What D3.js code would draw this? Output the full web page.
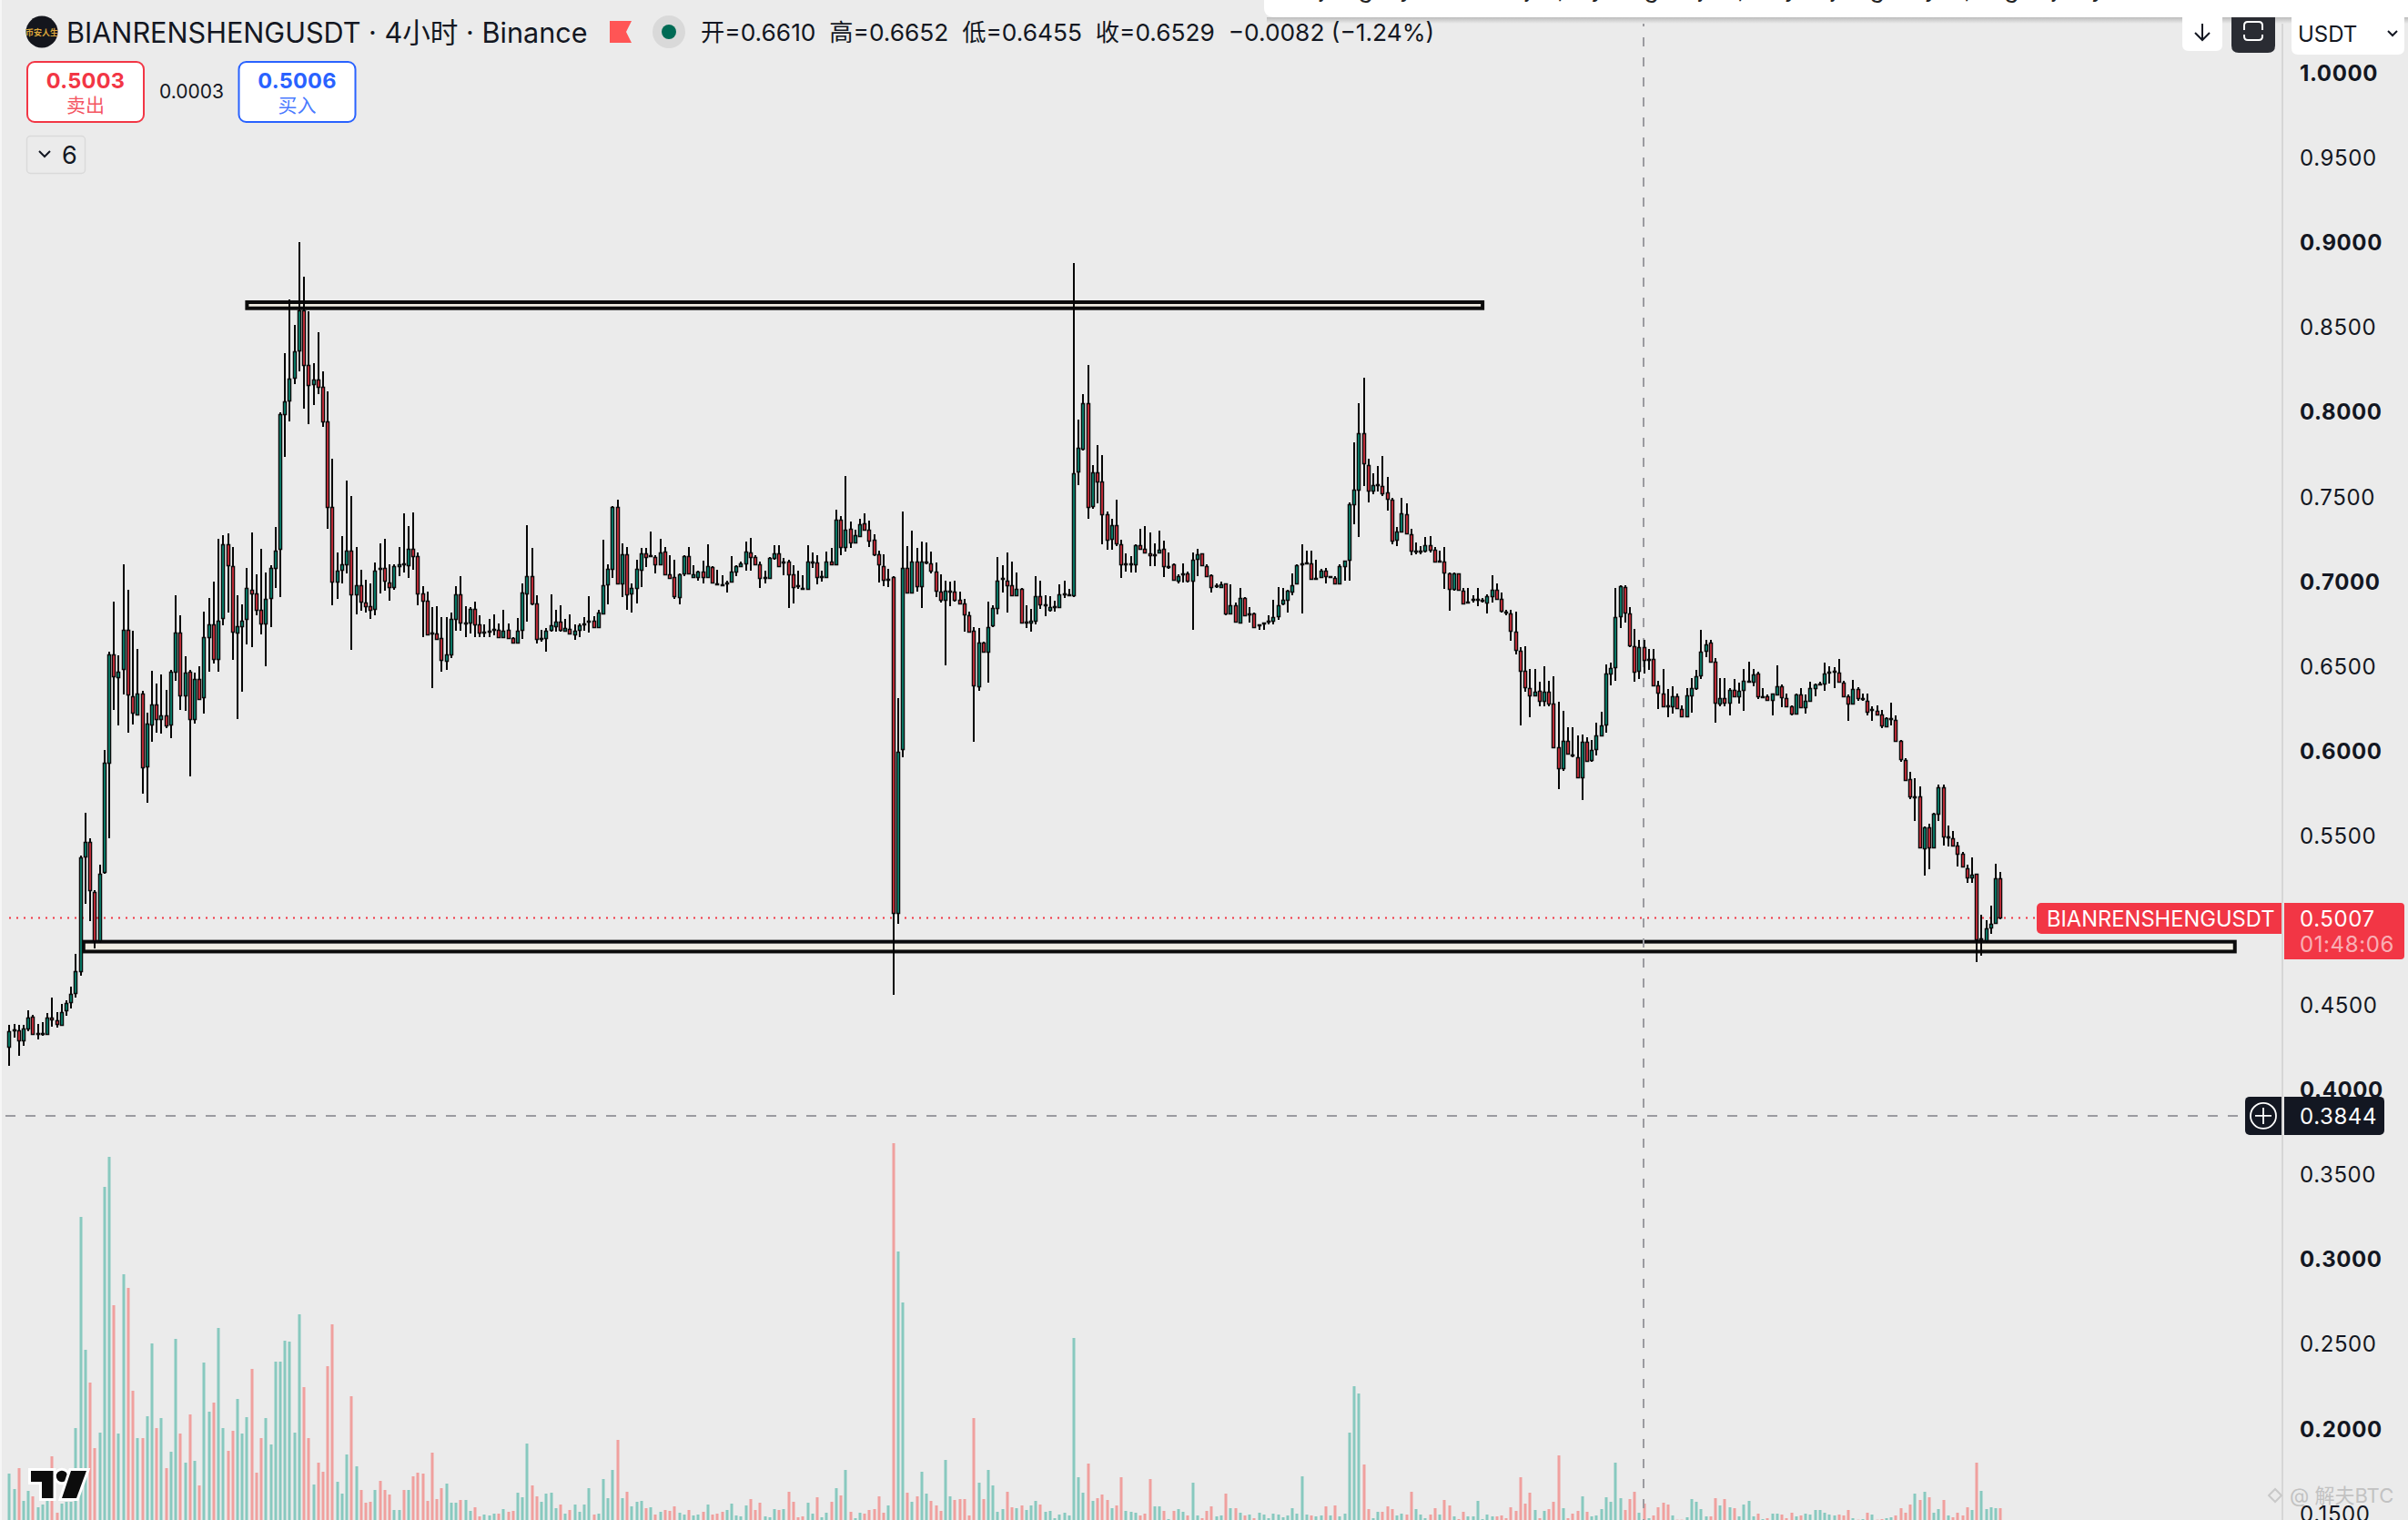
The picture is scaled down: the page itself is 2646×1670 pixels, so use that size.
<!DOCTYPE html>
<html><head><meta charset="utf-8">
<script src="https://cdn.jsdelivr.net/npm/d3@7"></script>
<style>
html,body{margin:0;padding:0;background:#ebebeb;overflow:hidden}
svg{display:block}
text{font-family:Inter,"Noto Sans CJK SC",sans-serif}
</style></head><body>
<svg id="c" width="2646" height="1670"></svg>
<script>
const opens=[
.4249,.4344,.4344,.4285,.4356,.4424,.4326,.4324,.4324,.4421,
.4401,.4378,.4460,.4507,.4560,.4688,.5366,.5454,.5162,.4875,
.5278,.5921,.6561,.6429,.6472,.6705,.6316,.6213,.6334,.5901,
.6152,.6268,.6182,.6204,.6146,.6460,.6689,.6322,.6460,.6182,
.6420,.6307,.6666,.6740,.6537,.6773,.7211,.7081,.6692,.6730,
.6767,.6946,.6920,.6823,.6746,.6894,.7074,.7185,.7981,.8062,
.8196,.8357,.8593,.8271,.8155,.8182,.8139,.7936,.7430,.6991,
.7059,.7095,.7177,.6920,.6973,.6871,.6848,.6832,.7074,.7074,
.6988,.6955,.7086,.7100,.7092,.7188,.7140,.6921,.6880,.6692,
.6687,.6657,.6526,.6562,.6772,.6916,.6749,.6749,.6830,.6737,
.6694,.6699,.6710,.6710,.6665,.6710,.6661,.6633,.6704,.6925,
.7027,.6865,.6658,.6660,.6704,.6733,.6755,.6704,.6715,.6683,
.6704,.6737,.6760,.6762,.6724,.6808,.6973,.7066,.7431,.6982,
.7155,.6921,.6955,.7066,.7161,.7143,.7139,.7095,.7172,.7037,
.7018,.6905,.7041,.7145,.7023,.7019,.7052,.7019,.7080,.6982,
.6978,.6978,.6991,.7055,.7086,.7098,.7166,.7139,.7095,.7014,
.7014,.7134,.7161,.7109,.7112,.7037,.6968,.6955,.6951,.7109,
.7104,.7021,.7019,.7112,.7095,.7360,.7198,.7304,.7224,.7265,
.7336,.7300,.7238,.7152,.7086,.7005,.7019,.5035,.6003,.7073,
.6928,.7112,.6969,.7109,.7098,.7053,.6935,.6885,.6937,.6934,
.6883,.6865,.6796,.6701,.6375,.6633,.6579,.6733,.6840,.7009,
.7000,.6973,.6912,.6948,.6753,.6751,.6762,.6905,.6853,.6830,
.6842,.6844,.6917,.6914,.6912,.7641,.7779,.8044,.7435,.7639,
.7582,.7391,.7242,.7324,.7215,.7095,.7097,.7095,.7206,.7185,
.7158,.7147,.7163,.7185,.7079,.7095,.7002,.7040,.7041,.6997,
.7126,.7156,.7086,.7029,.6968,.6961,.6979,.6803,.6850,.6752,
.6898,.6800,.6805,.6734,.6744,.6757,.6759,.6787,.6863,.6884,
.6938,.6979,.7095,.7101,.7102,.7013,.7020,.7056,.7018,.7016,
.6984,.7086,.7120,.7450,.7532,.7865,.7682,.7530,.7562,.7555,
.7516,.7478,.7238,.7289,.7389,.7271,.7174,.7174,.7176,.7208,
.7181,.7111,.7110,.7041,.6947,.7038,.6941,.6870,.6886,.6886,
.6882,.6870,.6905,.6943,.6888,.6816,.6802,.6696,.6585,.6465,
.6366,.6322,.6347,.6290,.6343,.6272,.6012,.5892,.6053,.5969,
.5958,.5838,.6048,.5941,.6003,.6084,.6146,.6451,.6483,.6787,
.6959,.6803,.6612,.6465,.6603,.6529,.6537,.6379,.6334,.6259,
.6254,.6313,.6241,.6200,.6322,.6365,.6440,.6585,.6630,.6519,
.6277,.6304,.6275,.6352,.6316,.6352,.6402,.6400,.6447,.6315,
.6315,.6290,.6329,.6375,.6304,.6254,.6214,.6325,.6250,.6290,
.6365,.6386,.6393,.6458,.6463,.6454,.6397,.6313,.6272,.6356,
.6300,.6290,.6234,.6230,.6209,.6137,.6186,.6173,.6051,.5940,
.5824,.5720,.5722,.5421,.5543,.5421,.5622,.5776,.5482,.5479,
.5434,.5386,.5301,.5248,.5266,.4881,.4879,.4947,.4974,.5239];
const highs=[
.4374,.4383,.4378,.4378,.4464,.4437,.4383,.4392,.4446,.4539,
.4449,.4500,.4521,.4602,.4795,.5377,.5627,.5477,.5171,.5323,
.5999,.6576,.6875,.6558,.7095,.6943,.6701,.6594,.6347,.6218,
.6465,.6392,.6444,.6352,.6470,.6911,.6794,.6553,.6469,.6456,
.6495,.6814,.6895,.6991,.7244,.7265,.7279,.7197,.6911,.6857,
.7074,.7283,.7036,.7185,.7047,.7090,.7315,.7990,.8339,.8656,
.8506,.8996,.8792,.8586,.8280,.8463,.8232,.8115,.7716,.7163,
.7260,.7587,.7498,.7197,.7063,.7002,.6979,.7104,.7217,.7244,
.7095,.7095,.7197,.7396,.7319,.7399,.7163,.6964,.6934,.6841,
.6845,.6785,.6785,.6809,.6966,.7023,.6848,.6840,.6874,.6794,
.6737,.6772,.6799,.6746,.6826,.6746,.6665,.6778,.6982,.7324,
.7191,.6912,.6710,.6719,.6916,.6826,.6853,.6772,.6799,.6740,
.6746,.6785,.6907,.6790,.6826,.7238,.7095,.7438,.7474,.7216,
.7198,.6982,.7121,.7193,.7193,.7288,.7148,.7243,.7195,.7148,
.7120,.7041,.7148,.7195,.7091,.7059,.7116,.7211,.7086,.7062,
.7030,.6996,.7143,.7091,.7112,.7229,.7250,.7148,.7112,.7059,
.7139,.7209,.7209,.7130,.7121,.7091,.7055,.7028,.7207,.7163,
.7148,.7059,.7172,.7193,.7417,.7377,.7614,.7345,.7300,.7363,
.7394,.7354,.7270,.7175,.7152,.7068,.7023,.6307,.7406,.7202,
.7292,.7193,.7229,.7223,.7170,.7104,.7036,.6996,.6991,.6996,
.6934,.6889,.6817,.6722,.6719,.6636,.6874,.6853,.7138,.7091,
.7163,.7112,.7044,.6955,.6853,.6830,.7023,.6996,.6912,.6907,
.6880,.6975,.6996,.6951,.8874,.7949,.8098,.8271,.7681,.7799,
.7740,.7408,.7364,.7476,.7238,.7158,.7140,.7212,.7305,.7319,
.7283,.7220,.7292,.7233,.7163,.7101,.7033,.7099,.7050,.7163,
.7185,.7161,.7092,.7033,.6979,.6991,.6982,.6975,.6871,.6956,
.6902,.6841,.6809,.6741,.6752,.6791,.6884,.6959,.6956,.6943,
.7042,.7095,.7212,.7176,.7176,.7122,.7068,.7074,.7027,.7027,
.7092,.7117,.7460,.7815,.8044,.8196,.7718,.7632,.7673,.7734,
.7611,.7485,.7314,.7485,.7453,.7305,.7224,.7203,.7253,.7262,
.7197,.7176,.7197,.7045,.7045,.7041,.6956,.6956,.6911,.6956,
.6898,.6916,.7029,.6982,.6925,.6827,.6827,.6814,.6608,.6612,
.6477,.6477,.6400,.6492,.6406,.6433,.6284,.6230,.6134,.6134,
.6084,.6089,.6071,.6057,.6161,.6223,.6504,.6513,.6955,.6970,
.6970,.6844,.6714,.6648,.6648,.6594,.6594,.6406,.6477,.6358,
.6374,.6331,.6263,.6365,.6424,.6472,.6708,.6648,.6648,.6540,
.6424,.6424,.6365,.6418,.6397,.6477,.6519,.6477,.6460,.6365,
.6325,.6334,.6499,.6383,.6329,.6263,.6334,.6365,.6325,.6400,
.6393,.6400,.6513,.6495,.6486,.6535,.6406,.6325,.6411,.6370,
.6329,.6331,.6254,.6263,.6236,.6191,.6277,.6200,.6057,.5949,
.5869,.5833,.5783,.5547,.5565,.5627,.5792,.5794,.5552,.5520,
.5457,.5395,.5323,.5362,.5269,.5028,.4995,.5081,.5327,.5280];
const lows=[
.4133,.4303,.4192,.4254,.4338,.4317,.4288,.4310,.4321,.4365,
.4360,.4371,.4428,.4471,.4535,.4664,.5090,.4986,.4825,.4861,
.5266,.5480,.6236,.6141,.6325,.6102,.6150,.6200,.5738,.5685,
.6048,.6098,.6093,.6125,.6066,.6406,.6236,.6232,.5842,.6152,
.6299,.6211,.6460,.6508,.6463,.6733,.6812,.6531,.6179,.6340,
.6624,.6606,.6794,.6678,.6495,.6726,.6952,.6902,.7730,.7940,
.8155,.8235,.8012,.7924,.8035,.8101,.7904,.7301,.6853,.6888,
.6979,.7038,.6588,.6800,.6818,.6809,.6773,.6796,.6920,.6939,
.6877,.6946,.7027,.7047,.7015,.7063,.6853,.6662,.6674,.6365,
.6651,.6463,.6472,.6540,.6701,.6701,.6665,.6686,.6665,.6665,
.6665,.6665,.6674,.6661,.6661,.6656,.6629,.6626,.6654,.6758,
.6853,.6629,.6635,.6579,.6697,.6697,.6697,.6697,.6683,.6651,
.6665,.6704,.6690,.6719,.6719,.6808,.6858,.7014,.6978,.6903,
.6826,.6812,.6862,.6960,.7080,.7138,.7041,.7091,.7030,.7014,
.6892,.6860,.7027,.7037,.7014,.6996,.6982,.7014,.6984,.6973,
.6973,.6930,.6987,.7027,.7080,.7055,.7059,.7091,.6957,.6984,
.7014,.7121,.7080,.7032,.6839,.6865,.6948,.6948,.6948,.7075,
.6978,.6994,.7019,.7095,.7093,.7148,.7170,.7193,.7220,.7265,
.7297,.7197,.7145,.6987,.6966,.6960,.4552,.4975,.5958,.6925,
.6925,.6933,.6839,.7095,.7041,.6901,.6871,.6500,.6849,.6876,
.6858,.6697,.6697,.6049,.6350,.6575,.6397,.6722,.6799,.6925,
.6812,.6907,.6907,.6746,.6719,.6697,.6737,.6833,.6790,.6817,
.6817,.6839,.6894,.6907,.6901,.7564,.7766,.7364,.7421,.7453,
.7215,.7178,.7178,.7199,.7015,.7050,.7047,.7047,.7181,.7158,
.7086,.7086,.7158,.7020,.7068,.7000,.6979,.6988,.6988,.6705,
.7027,.7083,.7027,.6925,.6956,.6956,.6796,.6800,.6748,.6748,
.6787,.6748,.6719,.6710,.6710,.6737,.6741,.6768,.6854,.6812,
.6911,.6979,.6805,.7095,.7006,.7009,.7015,.6979,.7015,.6979,
.6979,.6997,.7000,.7328,.7253,.7557,.7462,.7507,.7525,.7498,
.7412,.7215,.7203,.7283,.7271,.7149,.7152,.7152,.7163,.7163,
.7110,.7110,.6948,.6821,.6938,.6938,.6863,.6863,.6866,.6848,
.6866,.6805,.6866,.6884,.6812,.6794,.6644,.6564,.6143,.6343,
.6191,.6315,.6254,.6254,.6254,.6012,.5770,.5874,.5976,.5955,
.5833,.5702,.5928,.5928,.5964,.6078,.6102,.6379,.6406,.6716,
.6751,.6603,.6400,.6415,.6451,.6469,.6375,.6239,.6254,.6191,
.6211,.6239,.6196,.6196,.6221,.6352,.6415,.6544,.6513,.6159,
.6254,.6254,.6200,.6313,.6275,.6232,.6400,.6375,.6298,.6307,
.6290,.6205,.6322,.6250,.6250,.6205,.6212,.6245,.6211,.6286,
.6316,.6383,.6350,.6388,.6361,.6397,.6311,.6168,.6268,.6286,
.6290,.6205,.6168,.6205,.6125,.6137,.6141,.6050,.5926,.5820,
.5708,.5577,.5416,.5255,.5294,.5416,.5582,.5434,.5430,.5430,
.5309,.5309,.5216,.5216,.4747,.4782,.4861,.4915,.4970,.4997];
const closes=[
.4338,.4347,.4285,.4353,.4421,.4321,.4330,.4328,.4421,.4410,
.4380,.4453,.4503,.4557,.4691,.5362,.5454,.5167,.4875,.5269,
.5921,.6561,.6433,.6463,.6705,.6325,.6218,.6334,.5901,.6152,
.6268,.6182,.6204,.6143,.6460,.6692,.6316,.6456,.6182,.6420,
.6304,.6662,.6740,.6537,.6762,.7210,.7090,.6692,.6730,.6762,
.6952,.6923,.6823,.6742,.6891,.7070,.7177,.7978,.8058,.8192,
.8353,.8593,.8271,.8155,.8182,.8139,.7936,.7430,.6988,.7054,
.7092,.7177,.6920,.6973,.6875,.6852,.6827,.7059,.7072,.6997,
.6961,.7081,.7095,.7092,.7188,.7145,.6921,.6880,.6683,.6690,
.6657,.6526,.6562,.6773,.6919,.6749,.6751,.6830,.6737,.6686,
.6695,.6703,.6713,.6665,.6704,.6661,.6633,.6704,.6925,.7027,
.6865,.6656,.6661,.6704,.6733,.6758,.6704,.6719,.6686,.6704,
.6733,.6744,.6763,.6724,.6808,.6973,.7066,.7431,.6982,.7155,
.6921,.6955,.7066,.7161,.7139,.7146,.7095,.7166,.7037,.7018,
.6905,.7037,.7145,.7044,.7037,.7052,.7019,.7084,.6991,.6978,
.6976,.6985,.7052,.7086,.7102,.7170,.7141,.7095,.7014,.7018,
.7134,.7161,.7086,.7112,.7037,.6960,.6964,.6953,.7111,.7111,
.7019,.7023,.7109,.7098,.7360,.7198,.7300,.7224,.7265,.7333,
.7300,.7238,.7152,.7095,.7005,.7009,.5035,.5988,.7073,.6928,
.7112,.6969,.7112,.7109,.7053,.6939,.6885,.6937,.6941,.6885,
.6862,.6803,.6701,.6379,.6633,.6579,.6726,.6835,.7000,.7012,
.6973,.6912,.6951,.6751,.6756,.6762,.6905,.6855,.6857,.6844,
.6846,.6919,.6921,.6917,.7632,.7779,.8047,.7432,.7636,.7587,
.7391,.7242,.7324,.7217,.7095,.7097,.7100,.7206,.7185,.7163,
.7145,.7151,.7181,.7081,.7083,.7002,.7027,.7043,.6997,.7122,
.7152,.7086,.7029,.6961,.6972,.6975,.6800,.6850,.6752,.6898,
.6794,.6803,.6723,.6737,.6748,.6760,.6782,.6850,.6884,.6938,
.6973,.7088,.7099,.7104,.7009,.7016,.7056,.7024,.7022,.6982,
.7086,.7117,.7450,.7537,.7865,.7686,.7534,.7564,.7566,.7512,
.7480,.7238,.7289,.7394,.7278,.7174,.7177,.7177,.7208,.7181,
.7113,.7115,.7047,.6948,.7038,.6943,.6868,.6873,.6889,.6889,
.6886,.6905,.6943,.6889,.6818,.6812,.6701,.6590,.6465,.6370,
.6322,.6343,.6290,.6343,.6272,.6016,.5887,.6053,.5980,.5966,
.5838,.6048,.5937,.6000,.6084,.6141,.6447,.6483,.6780,.6966,
.6809,.6615,.6460,.6603,.6526,.6533,.6379,.6338,.6257,.6255,
.6313,.6241,.6200,.6322,.6365,.6436,.6579,.6624,.6519,.6277,
.6307,.6277,.6352,.6316,.6347,.6404,.6406,.6442,.6311,.6318,
.6295,.6329,.6375,.6311,.6254,.6209,.6325,.6250,.6286,.6365,
.6384,.6390,.6451,.6461,.6467,.6402,.6315,.6272,.6356,.6302,
.6304,.6227,.6238,.6209,.6146,.6187,.6189,.6051,.5946,.5824,
.5720,.5724,.5421,.5543,.5427,.5622,.5776,.5484,.5486,.5436,
.5386,.5310,.5248,.5264,.4879,.4884,.4947,.4970,.5239,.5007];
const volumes=[
153,102,171,63,96,78,42,51,70,210,
24,54,60,60,303,999,561,453,237,288,
1098,1197,708,285,810,765,426,270,270,342,
582,303,336,171,225,597,285,189,348,195,
114,519,357,387,633,303,228,294,399,285,
339,498,156,270,336,249,522,522,591,588,
288,678,438,270,117,189,159,507,645,126,
87,216,408,177,99,57,60,99,129,99,
84,33,33,99,99,144,156,153,63,222,
69,105,120,57,57,66,66,30,42,12,
18,15,21,21,36,27,30,90,75,252,
114,78,60,87,90,39,51,21,33,51,
27,51,105,18,21,135,72,165,264,72,
93,45,60,63,39,42,18,27,33,30,
45,24,18,33,15,18,27,51,18,21,
27,33,54,15,12,48,69,33,57,12,
9,36,33,36,93,60,9,12,57,21,
75,9,24,60,105,81,165,27,6,24,
21,33,36,78,24,48,1242,885,717,90,
60,78,159,87,63,48,30,198,78,66,
69,69,15,336,123,69,165,114,27,36,
93,42,39,48,33,48,63,51,27,30,
6,18,24,15,600,141,90,186,63,72,
84,66,39,48,141,30,27,24,15,21,
135,45,45,30,3,30,36,27,15,123,
15,6,30,45,12,15,87,39,39,24,
15,18,6,24,18,6,21,18,9,15,
39,21,144,18,15,12,15,45,15,48,
12,21,288,441,417,183,36,6,27,27,
45,36,15,21,18,93,36,18,6,18,
39,18,66,48,12,3,27,12,12,63,
3,18,12,12,15,6,42,30,141,54,
90,33,6,30,36,60,213,39,6,21,
30,78,27,12,15,36,75,60,189,72,
33,69,93,24,54,6,15,42,57,51,
15,1,1,9,69,60,36,12,12,72,
48,69,42,39,12,51,63,12,21,3,
6,21,21,18,6,24,12,15,21,18,
33,33,24,18,15,18,15,33,6,1,
3,24,18,1,3,6,9,15,39,24,
51,87,66,93,75,24,36,66,15,9,
24,15,42,33,189,96,36,42,39,39];
const priceTicks=[1,.95,.9,.85,.8,.75,.7,.65,.6,.55,.45,.4,.35,.3,.25,.2,.15];
const boldTicks=[1,.9,.8,.7,.6,.4,.3,.2];
const lastPrice=.5007, crossPrice=.3844;
const resistanceZone=[.8641,.8605], supportZone=[.4867,.4809];
const resistanceSpan=[50,310], supportSpan=[15.6,468.3];
const crossBar=343.8;
const ohlcText="开=0.6610  高=0.6652  低=0.6455  收=0.6529  −0.0082 (−1.24%)";

const W=2646,H=1670,plotR=2508;
const GREEN="#089981",RED="#F23645",INK="#131722";
const x=d3.scaleLinear().domain([0,419]).range([10.3,2198.3]);
const y=d3.scaleLinear().domain([1,.15]).range([79,1661.5]);
const yv=d3.scaleLinear().domain([0,1260]).range([1670,1250]);
const svg=d3.select("#c");
svg.append("rect").attr("width",W).attr("height",H).attr("fill","#ebebeb");
svg.append("rect").attr("width",2).attr("height",H).attr("fill","#f6f6f6");
svg.append("rect").attr("x",plotR-1).attr("width",2).attr("height",H).attr("fill","#d6d6d6");

// volume
svg.append("g").selectAll("rect").data(volumes).join("rect")
 .attr("x",(d,i)=>Math.round(x(i))-1.5).attr("width",3)
 .attr("y",d=>yv(d)).attr("height",d=>H-yv(d))
 .attr("fill",(d,i)=>closes[i]>=opens[i]?"#88c9bf":"#f0a09e");

// zones
function zone(z,s){
 svg.append("rect").attr("x",x(s[0])).attr("width",x(s[1])-x(s[0]))
  .attr("y",y(z[0])).attr("height",y(z[1])-y(z[0]))
  .attr("fill","#f0ede2").attr("stroke","#0b0b0b").attr("stroke-width",4);
}
zone(resistanceZone,resistanceSpan);zone(supportZone,supportSpan);

// guide lines
svg.append("line").attr("x1",10).attr("x2",2236).attr("y1",y(lastPrice)).attr("y2",y(lastPrice))
 .attr("stroke",RED).attr("stroke-width",2).attr("stroke-dasharray","2 6");
const crossX=Math.round(x(crossBar));
svg.append("line").attr("x1",crossX).attr("x2",crossX).attr("y1",19).attr("y2",H)
 .attr("stroke","#9b9ba0").attr("stroke-width",2).attr("stroke-dasharray","10 12");
svg.append("line").attr("x1",6).attr("x2",2466).attr("y1",y(crossPrice)+.8).attr("y2",y(crossPrice)+.8)
 .attr("stroke","#9b9ba0").attr("stroke-width",2).attr("stroke-dasharray","11 11");

// candles
const idx=d3.range(opens.length);
const cg=svg.append("g");
cg.selectAll("line").data(idx).join("line")
 .attr("shape-rendering","crispEdges")
 .attr("x1",i=>Math.round(x(i))).attr("x2",i=>Math.round(x(i)))
 .attr("y1",i=>y(highs[i])).attr("y2",i=>y(lows[i]))
 .attr("stroke","#050505").attr("stroke-width",2);
cg.selectAll("rect").data(idx).join("rect")
 .attr("x",i=>Math.round(x(i))-1.5).attr("width",3)
 .attr("y",i=>Math.round(y(Math.max(opens[i],closes[i])))+.5)
 .attr("height",i=>Math.max(1,Math.round(Math.abs(y(opens[i])-y(closes[i])))))
 .attr("fill",i=>closes[i]>=opens[i]?GREEN:RED)
 .attr("stroke","#0a0a0a").attr("stroke-width",1.5);

// price axis
const axis=d3.axisRight(y).tickValues(priceTicks).tickSize(0).tickPadding(0).tickFormat(d3.format(".4f"));
const ag=svg.append("g").attr("transform","translate(2527,0)").call(axis);
ag.select(".domain").remove();
ag.selectAll("text").attr("font-size",24).attr("letter-spacing",.6).attr("fill",INK)
 .attr("font-family",'Inter,sans-serif')
 .attr("font-weight",d=>boldTicks.includes(d)?700:400)
 .attr("dy",".40em");

// price tags
const ly=y(lastPrice);
function tag(x0,x1,y0,y1,fill,rl,rr){
 const p=d3.path();p.moveTo(x0+rl,y0);p.lineTo(x1-rr,y0);if(rr)p.arcTo(x1,y0,x1,y0+rr,rr);p.lineTo(x1,y1-rr);if(rr)p.arcTo(x1,y1,x1-rr,y1,rr);p.lineTo(x0+rl,y1);if(rl)p.arcTo(x0,y1,x0,y1-rl,rl);p.lineTo(x0,y0+rl);if(rl)p.arcTo(x0,y0,x0+rl,y0,rl);p.closePath();
 svg.append("path").attr("d",p.toString()).attr("fill",fill);
}
tag(2238,2507,ly-16.5,ly+17.5,RED,5,0);
tag(2510,2642,ly-16.5,ly+45.5,RED,0,4);
svg.append("text").attr("x",2249).attr("y",ly+9).attr("font-size",23.7).attr("fill","#fff").text("BIANRENSHENGUSDT");
svg.append("text").attr("x",2527).attr("y",ly+9).attr("font-size",24).attr("letter-spacing",.6).attr("fill","#fff").text(lastPrice.toFixed(4));
svg.append("text").attr("x",2527).attr("y",ly+37).attr("font-size",24).attr("letter-spacing",.6).attr("fill","#fff").attr("fill-opacity",.62).text("01:48:06");
const cy=y(crossPrice)+.8;
tag(2467,2507,cy-21,cy+21,"#131722",5,0);
tag(2510,2620,cy-21,cy+21,"#131722",0,5);
svg.append("text").attr("x",2527).attr("y",cy+9).attr("font-size",24).attr("letter-spacing",.6).attr("fill","#fff").text(crossPrice.toFixed(4));
svg.append("circle").attr("cx",2487).attr("cy",cy).attr("r",14).attr("fill","none").attr("stroke","#fff").attr("stroke-width",1.8);
svg.append("path").attr("d",`M2478 ${cy}H2496M2487 ${cy-9}V${cy+9}`).attr("stroke","#fff").attr("stroke-width",1.8);

// top white panel
const defs=svg.append("defs");
const gr=defs.append("linearGradient").attr("id","sh").attr("x1",0).attr("x2",0).attr("y1",0).attr("y2",1);
gr.append("stop").attr("offset",0).attr("stop-color","#bcbcbc");
gr.append("stop").attr("offset",1).attr("stop-color","#ebebeb");
svg.append("rect").attr("x",1392).attr("y",19).attr("width",W-1392).attr("height",7).attr("fill","url(#sh)");
svg.append("path").attr("d",`M1389 0H${W}V19H1401Q1389 19 1389 8Z`).attr("fill","#fff");
const fragClip=defs.append("clipPath").attr("id","fc");fragClip.append("rect").attr("x",1389).attr("y",0).attr("width",W-1389).attr("height",19);
svg.append("text").attr("clip-path","url(#fc)").attr("x",1450).attr("y",-3).attr("font-size",26).attr("fill","#222").attr("xml:space","preserve").text("j     g    y       ___     j    ,    y      g      j     ,      y     j     g      y    ,     g     j     y");

// right buttons
function btn(x0,x1,y1,fill,r){const p=`M${x0} 19H${x1}V${y1-r}Q${x1} ${y1} ${x1-r} ${y1}H${x0+r}Q${x0} ${y1} ${x0} ${y1-r}Z`;svg.append("path").attr("d",p).attr("fill",fill);}
btn(2398,2442,56,"#fff",7);
svg.append("path").attr("d","M2420 26V44M2412 36L2420 44L2428 36").attr("fill","none").attr("stroke","#131722").attr("stroke-width",2);
btn(2452,2500,58,"#2a2c33",8);
svg.append("path").attr("d","M2466 33V28Q2466 24 2470 24H2482Q2486 24 2486 28V33M2466 38V40Q2466 44 2470 44H2482Q2486 44 2486 40V38").attr("fill","none").attr("stroke","#fff").attr("stroke-width",2);
btn(2518,2642,60,"#fff",7);
svg.append("text").attr("x",2525).attr("y",46).attr("font-size",24).attr("fill",INK).text("USDT");
svg.append("path").attr("d","M2624 34L2629 39L2634 34").attr("fill","none").attr("stroke",INK).attr("stroke-width",2);

// header
svg.append("circle").attr("cx",46).attr("cy",35).attr("r",17.5).attr("fill","#14161d");
svg.append("text").attr("x",46).attr("y",38.5).attr("text-anchor","middle").attr("font-size",9).attr("font-weight",700).attr("fill","#dba63c").text("币安人生");
svg.append("text").attr("x",73).attr("y",47).attr("font-size",30.6).attr("fill",INK).text("BIANRENSHENGUSDT · 4小时 · Binance");
svg.append("path").attr("d","M670 23H694L688 35L694 47H670Z").attr("fill","#ff5555");
svg.append("circle").attr("cx",735).attr("cy",35).attr("r",18).attr("fill","#d9d9d9");
svg.append("circle").attr("cx",735).attr("cy",35).attr("r",8).attr("fill","#006b55");
svg.append("text").attr("x",770).attr("y",45).attr("font-size",26.3).attr("fill",INK).attr("xml:space","preserve").text(ohlcText);

function quote(x0,col,val,lab){
 svg.append("rect").attr("x",x0).attr("y",68).attr("width",128).attr("height",66).attr("rx",8).attr("fill","#fff").attr("stroke",col).attr("stroke-width",2);
 svg.append("text").attr("x",x0+64).attr("y",97).attr("text-anchor","middle").attr("font-size",23.5).attr("font-weight",700).attr("letter-spacing",.3).attr("fill",col).text(val);
 svg.append("text").attr("x",x0+64).attr("y",123).attr("text-anchor","middle").attr("font-size",21).attr("fill",col).attr("fill-opacity",.85).text(lab);
}
quote(30,RED,"0.5003","卖出");
quote(262.5,"#2962FF","0.5006","买入");
svg.append("text").attr("x",175).attr("y",108).attr("font-size",21).attr("fill",INK).text("0.0003");
svg.append("rect").attr("x",29.5).attr("y",149.5).attr("width",64).attr("height",41).attr("rx",4).attr("fill","#ebebeb").attr("stroke","#dadada").attr("stroke-width",1.5);
svg.append("path").attr("d","M43 166L49 172L55 166").attr("fill","none").attr("stroke",INK).attr("stroke-width",2);
svg.append("text").attr("x",68).attr("y",180).attr("font-size",27).attr("fill",INK).text("6");

// logo
const logo=svg.append("g").attr("fill","#0c0c0c").attr("stroke","#fff").attr("stroke-width",6).attr("paint-order","stroke").attr("stroke-linejoin","miter");
logo.append("path").attr("d","M34 1616H58.5V1646H46V1628H34Z");
logo.append("circle").attr("cx",68).attr("cy",1622).attr("r",6.2);
logo.append("path").attr("d","M78 1616H95L84 1646H68Z");

// watermark
svg.append("path").attr("d","M2500 1636L2507 1643L2500 1650L2493 1643Z").attr("fill","none").attr("stroke","#c9c9c9").attr("stroke-width",2);
svg.append("text").attr("x",2516).attr("y",1651).attr("font-size",22).attr("fill","#c2c2c2").text("@ 解夫BTC");
</script>
</body></html>
